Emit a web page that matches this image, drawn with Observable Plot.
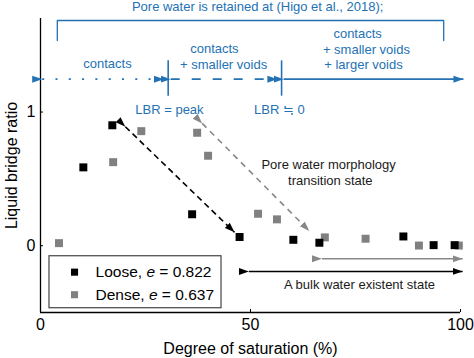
<!DOCTYPE html>
<html><head><meta charset="utf-8">
<script src="https://cdn.jsdelivr.net/npm/d3@7"></script>
<script src="https://cdn.jsdelivr.net/npm/@observablehq/plot@0.6"></script>
<style>body{margin:0;background:#fff}#chart svg{display:block}</style>
</head><body><div id="chart"></div>
<script>
// Data
const looseSat = [10.2, 17.1, 36.1, 47.4, 60.2, 66.4, 86.4, 93.6, 98.6];
const looseLBR = [0.586, 0.901, 0.235, 0.065, 0.044, 0.022, 0.069, 0.004, 0.004];
const denseSat = [4.4, 17.3, 24.0, 37.3, 39.9, 51.8, 56.3, 67.7, 77.4, 90.1, 99.6];
const denseLBR = [0.019, 0.625, 0.857, 0.845, 0.673, 0.239, 0.197, 0.062, 0.052, 0.001, 0.001];
const xTicks = [0, 50, 100];
const yTicks = [0, 1];
const legendLabels = ["Loose, e = 0.822", "Dense, e = 0.637"];

// Annotations (data coordinates)
const bracketX = [4, 4, 96, 96];
const bracketY = [1.535, 1.685, 1.685, 1.535];
const stageStart = [0.4, 31.0, 57.9];
const stageEnd = [29.4, 56.4, 100.7];
const stageRowY = 1.246;
const dividerX = [30.4, 57.4];
const dividerY = [1.119, 1.383];
const blueText = [
  {x: 51.7, y: 1.786, t: "Pore water is retained at (Higo et al., 2018);"},
  {x: 15.95, y: 1.364, t: "contacts"},
  {x: 41.4, y: 1.476, t: "contacts"},
  {x: 43.6, y: 1.356, t: "+ smaller voids"},
  {x: 75.5, y: 1.588, t: "contacts"},
  {x: 77.6, y: 1.468, t: "+ smaller voids"},
  {x: 76.9, y: 1.356, t: "+ larger voids"},
  {x: 30.7, y: 1.018, t: "LBR = peak"},
  {x: 56.9, y: 1.018, t: "LBR ≒ 0"}
];
const darkText = [
  {x: 68.6, y: 0.608, t: "Pore water morphology"},
  {x: 69.0, y: 0.488, t: "transition state"},
  {x: 75.95, y: -0.293, t: "A bulk water existent state"}
];
const diagArrows = [
  {x1: 20.2, y1: 0.89, x2: 46.2, y2: 0.10, c: "#000", dash: "6,4"},
  {x1: 38.5, y1: 0.915, x2: 64.0, y2: 0.11, c: "#888", dash: "6,5"}
];
const bulkArrows = [
  {x1: 67, x2: 100.5, y: -0.098, c: "#888"},
  {x1: 49.6, x2: 100.5, y: -0.193, c: "#000"}
];
const legendBox = [{x1: 2.14, x2: 43.1, y1: -0.079, y2: -0.468}];
const legendRows = [{x: 8.1, tx: 13.1, y: -0.198}, {x: 8.1, tx: 13.1, y: -0.367}];
const colors = ["#000000", "#808080"];
const blue = "#2472b4";

const loose = looseSat.map((s, i) => ({s, v: looseLBR[i]}));
const dense = denseSat.map((s, i) => ({s, v: denseLBR[i]}));
const legend = legendRows.map((r, i) => ({...r, label: legendLabels[i], c: colors[i]}));
const bracket = bracketX.map((x, i) => ({x, y: bracketY[i]}));
const dashes = ["2,11.3", "9,12", null];
const stages = stageStart.map((x1, i) => ({x1, x2: stageEnd[i], y: stageRowY, dash: dashes[i]}));

const font = "'Liberation Sans', Arial, Helvetica, sans-serif";

const plot = Plot.plot({
  width: 474, height: 358,
  marginLeft: 40, marginRight: 14, marginTop: 18, marginBottom: 46,
  style: {fontFamily: font, fontSize: "16px", color: "#000", background: "#fff", overflow: "visible"},
  x: {domain: [0, 100], ticks: xTicks, tickFormat: d => String(d), tickSize: -3, tickPadding: 9, label: "Degree of saturation (%)", labelAnchor: "center", labelOffset: 41, labelArrow: "none"},
  y: {domain: [-0.5, 1.7], ticks: yTicks, tickFormat: d => String(d), tickSize: -3, tickPadding: 8, label: "Liquid bridge ratio", labelAnchor: "center", labelOffset: 35, labelArrow: "none"},
  marks: [
    Plot.ruleX([0], {stroke: "#000", strokeWidth: 1.3}),
    Plot.ruleY([-0.5], {stroke: "#000", strokeWidth: 1.3}),
    // blue annotations
    Plot.line(bracket, {x: "x", y: "y", stroke: blue, strokeWidth: 1.3}),
    ...stages.map(d => Plot.link([d], {x1: "x1", x2: "x2", y1: "y", y2: "y", stroke: blue, strokeWidth: 1.6,
      strokeDasharray: d.dash || undefined, markerStart: "arrow", markerEnd: "arrow"})),
    Plot.ruleX(dividerX, {y1: dividerY[0], y2: dividerY[1], stroke: blue, strokeWidth: 1.6}),
    Plot.text(blueText, {x: "x", y: "y", text: "t", fill: blue, fontSize: 13}),
    // black/gray annotations
    ...diagArrows.map(d => Plot.link([d], {x1: "x1", y1: "y1", x2: "x2", y2: "y2", stroke: d.c, strokeWidth: 1.6,
      strokeDasharray: d.dash, markerStart: "arrow", markerEnd: "arrow"})),
    ...bulkArrows.map(d => Plot.link([d], {x1: "x1", x2: "x2", y1: "y", y2: "y", stroke: d.c, strokeWidth: 1.6,
      markerStart: "arrow", markerEnd: "arrow"})),
    Plot.text(darkText, {x: "x", y: "y", text: "t", fill: "#1a1a1a", fontSize: 13}),
    // data
    Plot.dot(dense, {x: "s", y: "v", symbol: "square", r: 4.5, fill: colors[1], stroke: null}),
    Plot.dot(loose, {x: "s", y: "v", symbol: "square", r: 4.5, fill: colors[0], stroke: null}),
    // legend
    Plot.rect(legendBox, {x1: "x1", x2: "x2", y1: "y1", y2: "y2", fill: "#fff", stroke: "#444", strokeWidth: 1.2}),
    Plot.dot(legend, {x: "x", y: "y", symbol: "square", r: 4, fill: "c", stroke: null}),
    Plot.text(legend, {x: "tx", y: "y", text: "label", textAnchor: "start", fontSize: 15.5, fill: "#000"})
  ]
});

// filled triangular arrowheads
d3.select(plot).selectAll("marker").each(function() {
  const m = d3.select(this);
  const c = m.attr("stroke");
  m.attr("fill", c).attr("stroke", "none").attr("stroke-width", null)
   .attr("viewBox", "-10 -5 10 10").attr("markerUnits", "userSpaceOnUse")
   .attr("markerWidth", 10).attr("markerHeight", 10);
  m.selectAll("path").attr("d", "M-10,-3.5L0,0L-10,3.5Z");
});
// italic "e" in legend
d3.select(plot).selectAll("text").each(function() {
  const t = d3.select(this);
  const s = this.textContent;
  const m = /^(Loose|Dense), e( = .*)$/.exec(s);
  if (m && this.children.length === 0) {
    t.text(null);
    t.append("tspan").text(m[1] + ", ");
    t.append("tspan").attr("font-style", "italic").text("e");
    t.append("tspan").text(m[2]);
  }
});
document.getElementById("chart").appendChild(plot);
</script>
</body></html>
